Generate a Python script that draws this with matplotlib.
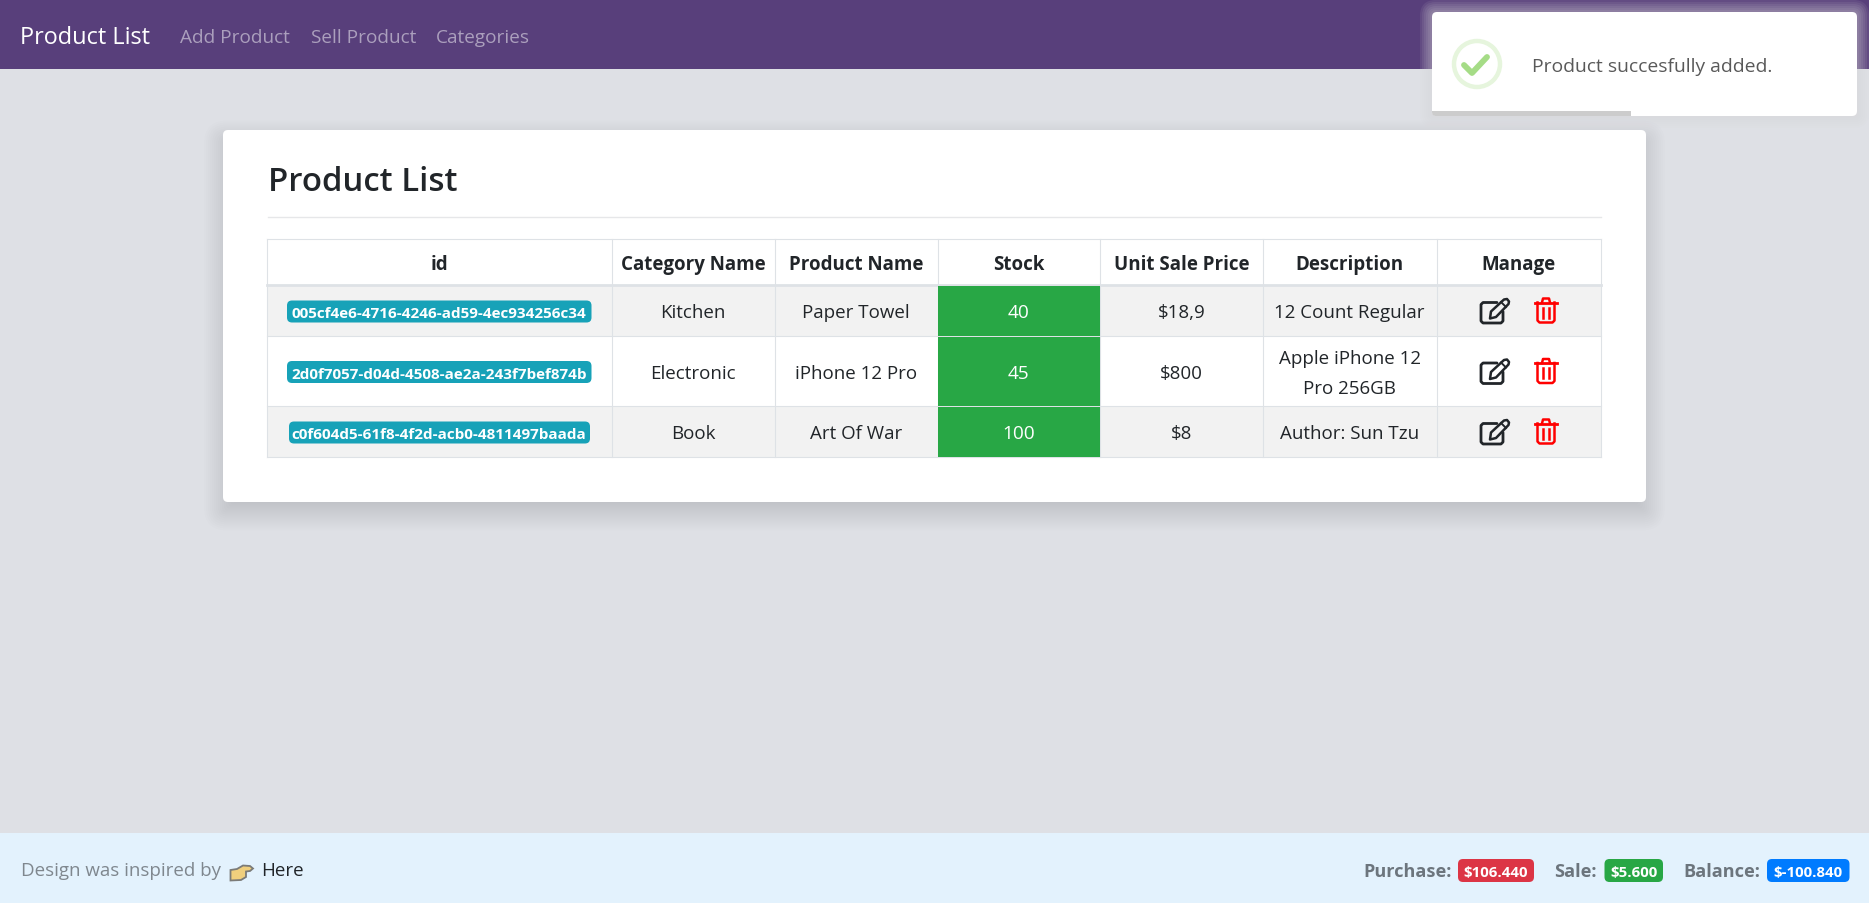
#!/usr/bin/env python
"""Product list page screenshot, redrawn in pixel coordinates."""

import matplotlib

matplotlib.use("Agg")
import matplotlib.pyplot as plt
from matplotlib.patches import Circle, FancyBboxPatch, Polygon, Rectangle

plt.rcParams["font.family"] = ["Open Sans", "DejaVu Sans"]

W, H = 1869, 904

# --- table content -------------------------------------------------------
COLUMNS = ["id", "Category Name", "Product Name", "Stock",
           "Unit Sale Price", "Description", "Manage"]
IDS = ["005cf4e6-4716-4246-ad59-4ec934256c34",
       "2d0f7057-d04d-4508-ae2a-243f7bef874b",
       "c0f604d5-61f8-4f2d-acb0-4811497baada"]
CATEGORIES = ["Kitchen", "Electronic", "Book"]
PRODUCTS = ["Paper Towel", "iPhone 12 Pro", "Art Of War"]
STOCKS = [40, 45, 100]
PRICES = ["$18,9", "$800", "$8"]
DESCRIPTIONS = ["12 Count Regular", "Apple iPhone 12\nPro 256GB", "Author: Sun Tzu"]

NAV_LINKS = ["Add Product", "Sell Product", "Categories"]
TOTAL_LABELS = ["Purchase:", "Sale:", "Balance:"]
TOTAL_VALUES = ["$106.440", "$5.600", "$-100.840"]

# --- page geometry, in screenshot pixels ---------------------------------
COL_EDGES = [267, 611.5, 774.5, 937.5, 1100, 1263, 1436.5, 1601]
ROW_EDGES = [240, 286, 337, 407, 458]
NAV_X = [180, 311, 436]
ID_BADGE_X = [(287, 591.5), (287, 591.5), (289, 590)]
TOTAL_X = [1363, 1554, 1683.5]
TOTAL_BADGE_X = [(1458, 1534), (1604.5, 1663), (1767, 1849.5)]
EDIT_X, TRASH_X = 1495, 1546

PAGE = "#dee0e5"
NAVBAR = "#583f7b"
NAV_MUTED = "#ab9fbd"
FOOTER = "#e3f2fd"
TEXT = "#212529"
BORDER = "#dee2e6"
STRIPE = "#f2f2f2"
GREEN = "#28a745"
TEAL = "#17a2b8"
TOTAL_COLORS = ["#dc3545", GREEN, "#007bff"]


def rounded(ax, x0, y0, x1, y1, r, color, alpha=1.0, zorder=2):
    ax.add_patch(FancyBboxPatch(
        (x0 + r, y0 + r), x1 - x0 - 2 * r, y1 - y0 - 2 * r,
        boxstyle=f"round,pad={r},rounding_size={r}",
        facecolor=color, edgecolor="none", alpha=alpha, zorder=zorder))


def shadow(ax, x0, y0, x1, y1, color, spread, alpha, zorder):
    # stacked translucent boxes stand in for a css blur
    for i in range(spread, -spread - 1, -2):
        rounded(ax, x0 - i, y0 - i, x1 + i, y1 + i, 4 + max(i, 0), color, alpha, zorder)


def label(ax, x, y, s, px, color=TEXT, weight="normal", ha="left", **kw):
    ax.text(x, y, s, fontsize=px * 0.72, color=color, fontweight=weight,
            ha=ha, va="baseline", zorder=6, **kw)


def edit_icon(ax, cx, cy):
    ink = "#212529"
    # open box, top right corner cut away
    ax.plot([cx + 2, cx - 12, cx - 14, cx - 14, cx - 12, cx + 6, cx + 8, cx + 8],
            [cy - 8, cy - 8, cy - 6, cy + 10.5, cy + 12.5, cy + 12.5, cy + 10.5, cy + 1],
            color=ink, lw=2.0, solid_capstyle="round", solid_joinstyle="round", zorder=6)
    ax.add_patch(Polygon(
        [(cx - 5, cy + 8), (cx - 4, cy + 1), (cx + 9, cy - 11),
         (cx + 12, cy - 11.5), (cx + 14, cy - 9), (cx + 13.5, cy - 6.5), (cx + 1, cy + 6.5)],
        closed=True, fill=False, edgecolor=ink, lw=1.8, joinstyle="round", zorder=6))
    ax.plot([cx + 6, cx + 11], [cy - 8.5, cy - 3.5], color=ink, lw=1.4, zorder=6)


def trash_icon(ax, cx, cy):
    red = "#ff0000"
    ax.plot([cx - 11, cx + 11], [cy - 8, cy - 8], color=red, lw=2.0, zorder=6)
    ax.plot([cx - 4, cx - 3, cx + 3, cx + 4], [cy - 8, cy - 12, cy - 12, cy - 8],
            color=red, lw=1.8, zorder=6)
    ax.plot([cx - 8.5, cx - 8.5, cx - 6.5, cx + 6.5, cx + 8.5, cx + 8.5],
            [cy - 8, cy + 10, cy + 12, cy + 12, cy + 10, cy - 8],
            color=red, lw=1.8, solid_joinstyle="round", zorder=6)
    for dx in (-3, 3):
        ax.plot([cx + dx, cx + dx], [cy - 3, cy + 7], color=red, lw=1.8, zorder=6)


def hand_icon(ax):
    ax.add_patch(Polygon(
        [(230.5, 871), (237, 870), (243, 866.5), (250, 867), (253, 869.5), (250, 872),
         (246, 872.5), (246, 878), (241, 881), (230.5, 881.5)],
        closed=True, facecolor="#f0cf7d", edgecolor="#7b7b78", lw=1.3, zorder=6))


def main() -> None:
    fig = plt.figure(figsize=(W / 100, H / 100), dpi=100, facecolor=PAGE)
    ax = fig.add_axes([0, 0, 1, 1])
    ax.set_xlim(0, W)
    ax.set_ylim(H, 0)
    ax.axis("off")

    # navbar
    ax.add_patch(Rectangle((0, 0), W, 70, facecolor=NAVBAR, edgecolor="none", zorder=1))
    label(ax, 20, 44.5, "Product List", 23.5, "white")
    for x, s in zip(NAV_X, NAV_LINKS):
        label(ax, x, 43, s, 19, NAV_MUTED)

    # footer
    ax.add_patch(Rectangle((0, 834), W, 70, facecolor=FOOTER, edgecolor="none", zorder=1))
    label(ax, 21, 876.5, "Design was inspired by", 18.8, "#7f878e")
    hand_icon(ax)
    label(ax, 261, 876.5, "Here", 18.8, TEXT)
    for x, s, (b0, b1), v, c in zip(TOTAL_X, TOTAL_LABELS, TOTAL_BADGE_X, TOTAL_VALUES, TOTAL_COLORS):
        label(ax, x, 877, s, 18.2, "#6c757d", "bold")
        rounded(ax, b0, 860, b1, 883, 5, c, zorder=4)
        label(ax, (b0 + b1) / 2, 877, v, 15, "white", "bold", ha="center")

    # card, css shadow is 0 .5rem 1rem rgba(0,0,0,.15)
    shadow(ax, 223, 140.5, 1646, 512.5, "black", 19, 0.008, 2)
    rounded(ax, 223, 131, 1646, 503, 5, "white", zorder=3)
    label(ax, 268, 191, "Product List", 33, weight=600)
    ax.plot([268, 1601], [218, 218], color="#e6e7e9", lw=1.0, zorder=4)

    # table body
    centers = [(a + b) / 2 for a, b in zip(ROW_EDGES[1:], ROW_EDGES[2:])]
    col_mid = [(a + b) / 2 for a, b in zip(COL_EDGES, COL_EDGES[1:])]
    for i, cy in enumerate(centers):
        y0, y1 = ROW_EDGES[i + 1], ROW_EDGES[i + 2]
        if i % 2 == 0:
            ax.add_patch(Rectangle((COL_EDGES[0], y0), COL_EDGES[-1] - COL_EDGES[0], y1 - y0,
                                   facecolor=STRIPE, edgecolor="none", zorder=4))
        base = cy + 7
        b0, b1 = ID_BADGE_X[i]
        rounded(ax, b0, cy - 10, b1, cy + 12, 5, TEAL, zorder=5)
        label(ax, col_mid[0], cy + 7, IDS[i], 15.2, "white", "bold", ha="center")
        label(ax, col_mid[1], base, CATEGORIES[i], 18.8, ha="center")
        label(ax, col_mid[2], base, PRODUCTS[i], 18.8, ha="center")
        label(ax, col_mid[4], base, PRICES[i], 18.8, ha="center")
        if "\n" in DESCRIPTIONS[i]:
            for k, line in enumerate(DESCRIPTIONS[i].split("\n")):
                label(ax, col_mid[5], base - 14.5 + 30 * k, line, 18.8, ha="center")
        else:
            label(ax, col_mid[5], base, DESCRIPTIONS[i], 18.8, ha="center")
        edit_icon(ax, EDIT_X, cy)
        trash_icon(ax, TRASH_X, cy)

    # grid lines
    for x in COL_EDGES:
        ax.plot([x, x], [ROW_EDGES[0], ROW_EDGES[-1]], color=BORDER, lw=0.8, zorder=5)
    for y in ROW_EDGES:
        ax.plot([COL_EDGES[0], COL_EDGES[-1]], [y, y], color=BORDER,
                lw=2.0 if y == ROW_EDGES[1] else 0.8, zorder=5)

    # stock cells sit over the grid, white hairlines between them
    for i, cy in enumerate(centers):
        y0, y1 = ROW_EDGES[i + 1], ROW_EDGES[i + 2]
        ax.add_patch(Rectangle((COL_EDGES[3], y0 + 1), COL_EDGES[4] - COL_EDGES[3] - 0.5, y1 - y0 - 1.5,
                               facecolor=GREEN, edgecolor="none", zorder=5.5))
        label(ax, col_mid[3], cy + 7, str(STOCKS[i]), 19, "white", ha="center")

    # header
    for mid, s in zip(col_mid, COLUMNS):
        label(ax, mid, 270, s, 18.8, weight="bold", ha="center")

    # toast
    shadow(ax, 1432, 13, 1857, 117, "#d9d9d9", 12, 0.09, 7)
    rounded(ax, 1432, 13, 1857, 117, 5, "white", zorder=8)
    ax.add_patch(Rectangle((1436, 112), 195, 5, facecolor="#cccccc", edgecolor="none", zorder=8.5))
    rounded(ax, 1432, 108, 1442, 117, 4, "#cccccc", zorder=8.4)
    ax.add_patch(Rectangle((1432, 106), 10, 6, facecolor="white", edgecolor="none", zorder=8.45))
    ax.add_patch(Circle((1477, 65), 23, facecolor="none", edgecolor="#e6f5dd", lw=3.2, zorder=9))
    ax.plot([1464, 1472, 1487], [66, 74, 58], color="#a5dc86", lw=4.2,
            solid_capstyle="round", solid_joinstyle="round", zorder=9)
    ax.text(1532, 72.5, "Product succesfully added.", fontsize=19.3 * 0.72, color="#595959",
            ha="left", va="baseline", zorder=9)

    fig.savefig("out.png", dpi=100, facecolor=PAGE)


if __name__ == "__main__":
    main()
